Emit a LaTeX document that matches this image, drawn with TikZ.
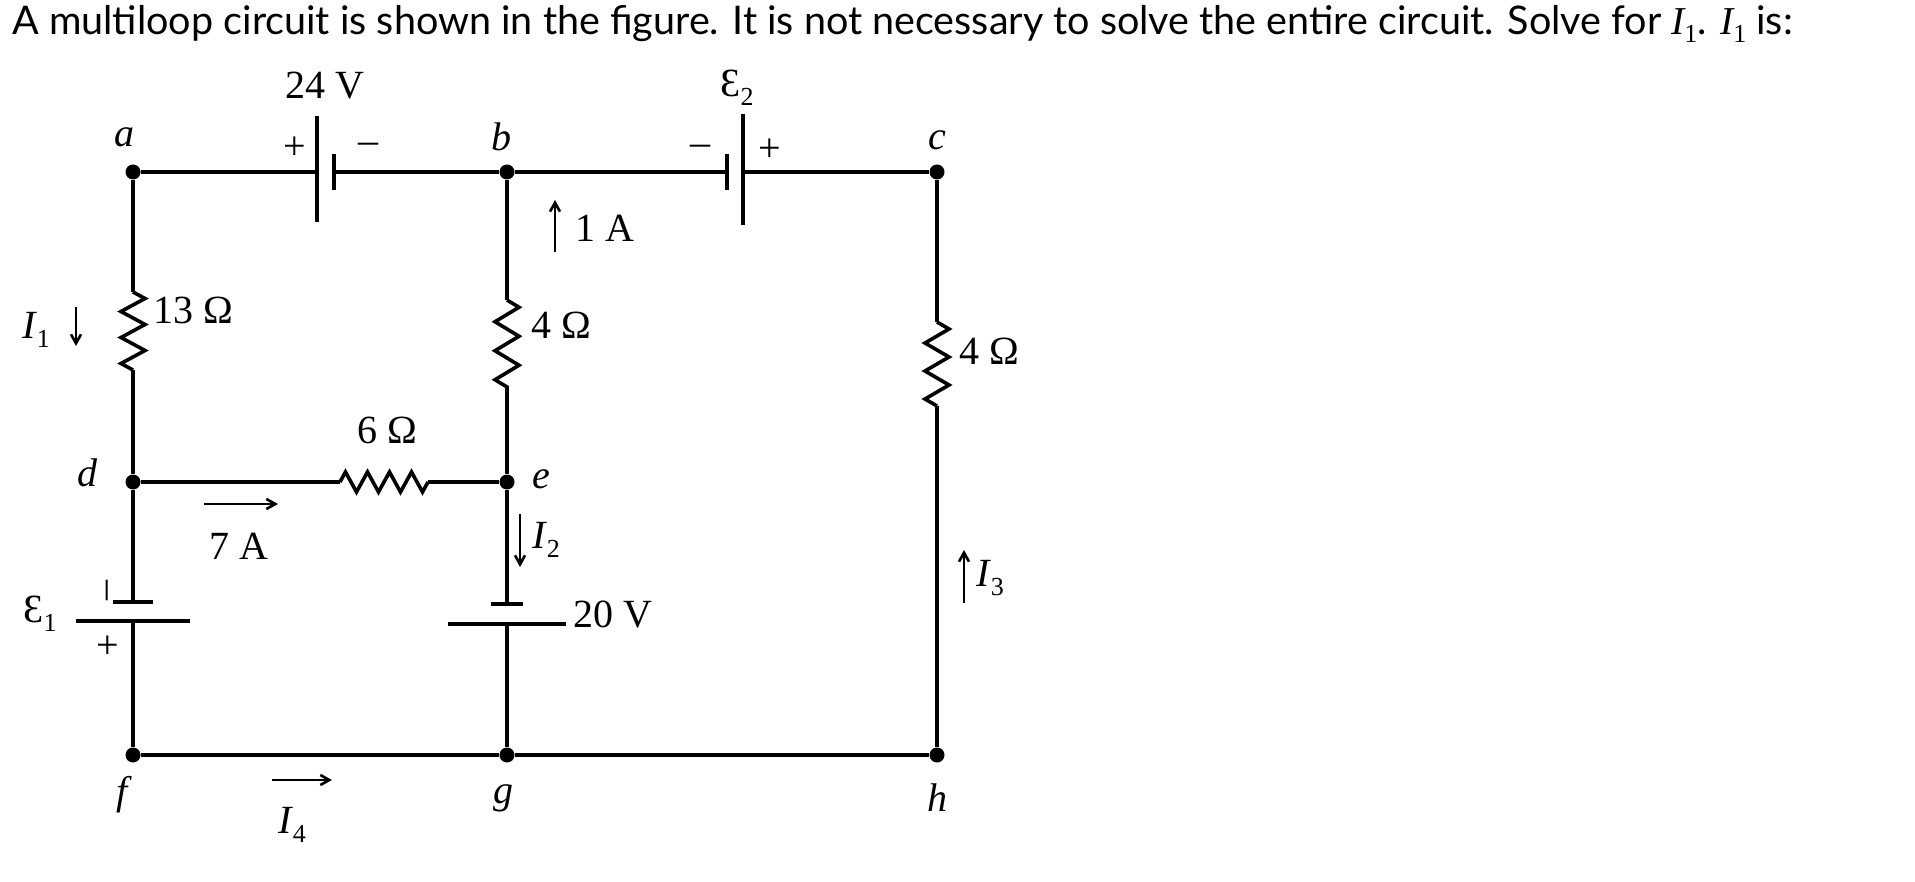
\documentclass[tikz,border=0pt]{standalone}
\usepackage{fontspec}
\setmainfont{Liberation Serif}
\newfontfamily\titlefont{Lato}
\newfontfamily\serifI{Liberation Serif}
\usetikzlibrary{decorations.pathmorphing,arrows.meta}
\newcommand\lsub[1]{\raisebox{-0.22em}{\fontsize{26}{26}\selectfont #1}}
\newcommand\tsub[1]{\raisebox{-0.22em}{\fontsize{26}{26}\selectfont #1}}
\begin{document}
\begin{tikzpicture}[x=1pt,y=-1pt,
  wire/.style={line width=3.6pt},
  plate/.style={line width=3.2pt},
  dot/.style={circle,fill=black,inner sep=0pt,minimum size=15pt},
  lbl/.style={font=\fontsize{40}{40}\selectfont},
  curr/.style={line width=2.6pt,-{Straight Barb[length=9pt,width=10pt]}}]
\useasboundingbox (0,0) rectangle (1915,882);
\node[anchor=west,inner sep=0pt,font=\titlefont\fontsize{39.5}{40}\selectfont] (title) at (12,24) {A multiloop circuit is shown in the figure. It is not necessary to solve the entire circuit. Solve for {\serifI\itshape I}\tsub{\serifI 1}. {\serifI\itshape I}\tsub{\serifI 1} is:};
% junctions
\node[dot] (a) at (133,172) {}; \node[dot] (b) at (507,172) {}; \node[dot] (c) at (937,172) {};
\node[dot] (d) at (133,482) {}; \node[dot] (e) at (507,482) {};
\node[dot] (f) at (133,755) {}; \node[dot] (g) at (507,755) {}; \node[dot] (h) at (937,755) {};
% battery coordinates
\coordinate (b24p) at (317,172); \coordinate (b24n) at (334,172);
\coordinate (e2n) at (727,172); \coordinate (e2p) at (743,172);
\coordinate (e1n) at (133,602); \coordinate (e1p) at (133,621);
\coordinate (b20n) at (507,604); \coordinate (b20p) at (507,624);
% resistor segments
\coordinate (r13a) at (133,292); \coordinate (r13b) at (133,370);
\coordinate (r4a) at (507,300); \coordinate (r4b) at (507,388);
\coordinate (r4ca) at (937,322); \coordinate (r4cb) at (937,406);
\coordinate (r6a) at (340,482); \coordinate (r6b) at (428,482);
% wires
\draw[wire] (a) -- (b24p); \draw[wire] (b24n) -- (b) -- (e2n); \draw[wire] (e2p) -- (c);
\draw[wire] (a) -- (r13a); \draw[wire] (r13b) -- (d) -- (e1n); \draw[wire] (e1p) -- (f) -- (g) -- (h);
\draw[wire] (b) -- (r4a); \draw[wire] (r4b) -- (e) -- (b20n); \draw[wire] (b20p) -- (g);
\draw[wire] (c) -- (r4ca); \draw[wire] (r4cb) -- (h);
\draw[wire] (d) -- (r6a); \draw[wire] (r6b) -- (e);
% resistors
\draw[wire,decorate,decoration={zigzag,segment length=26pt,amplitude=12pt}] (r13a) -- (r13b);
\draw[wire,decorate,decoration={zigzag,segment length=29pt,amplitude=12pt}] (r4a) -- (r4b);
\draw[wire,decorate,decoration={zigzag,segment length=28pt,amplitude=12pt}] (r4ca) -- (r4cb);
\draw[wire,decorate,decoration={zigzag,segment length=22pt,amplitude=10pt}] (r6a) -- (r6b);
% batteries
\draw[plate] ([yshift=-50pt]b24p) -- ([yshift=56pt]b24p);
\draw[plate] ([yshift=-18pt]b24n) -- ([yshift=18pt]b24n);
\draw[plate] ([yshift=-18pt]e2n) -- ([yshift=18pt]e2n);
\draw[plate] ([yshift=-53pt]e2p) -- ([yshift=58pt]e2p);
\draw[plate] ([xshift=-20pt]e1n) -- ([xshift=20pt]e1n);
\draw[plate] ([xshift=-57pt]e1p) -- ([xshift=57pt]e1p);
\draw[plate] ([xshift=-16pt]b20n) -- ([xshift=16pt]b20n);
\draw[plate] ([xshift=-59pt]b20p) -- ([xshift=59pt]b20p);
% labels
\node[lbl] (l24) at (325,86) {24 V};
\node[lbl] (le2) at (737,88) {Ɛ\lsub{2}};
\node[lbl] at (295,148) {+}; \node[lbl] at (368,148) {\textendash};
\node[lbl] at (700,150) {\textendash}; \node[lbl] at (770,150) {+};
\node[lbl] (la) at (124,137) {\textit{a}}; \node[lbl] (lb) at (501,137) {\textit{b}}; \node[lbl] (lc) at (937,140) {\textit{c}};
\node[lbl] (ld) at (88,473) {\textit{d}}; \node[lbl] (le) at (541,479) {\textit{e}};
\node[lbl] (lf) at (124,795) {\textit{f}}; \node[lbl] (lg) at (503,798) {\textit{g}}; \node[lbl] (lh) at (937,798) {\textit{h}};
\node[lbl,anchor=west] at (150,310) {13 Ω};
\node[lbl,anchor=west] at (528,325) {4 Ω};
\node[lbl,anchor=west] at (956,351) {4 Ω};
\node[lbl] at (387,430) {6 Ω};
\node[lbl,anchor=west] at (572,228) {1 A};
\node[lbl] at (239,546) {7 A};
\node[lbl,anchor=west] at (570,614) {20 V};
\node[lbl] at (40,614) {Ɛ\lsub{1}};
\node[lbl] at (108,647) {+}; \node[lbl,rotate=90] at (111,590) {\textendash};
\node[lbl] at (36,330) {\textit{I}\lsub{1}};
\node[lbl] at (546,540) {\textit{I}\lsub{2}};
\node[lbl] at (990,578) {\textit{I}\lsub{3}};
\node[lbl] at (292,825) {\textit{I}\lsub{4}};
% current arrows
\coordinate (i1s) at (76,307); \coordinate (i1e) at (76,346);
\draw[curr] (i1s) -- (i1e);
\coordinate (i1as) at (555,252); \coordinate (i1ae) at (555,200);
\draw[curr] (i1as) -- (i1ae);
\coordinate (i7s) at (204,504); \coordinate (i7e) at (278,504);
\draw[curr] (i7s) -- (i7e);
\coordinate (i2s) at (520,514); \coordinate (i2e) at (520,567);
\draw[curr] (i2s) -- (i2e);
\coordinate (i3s) at (964,603); \coordinate (i3e) at (964,550);
\draw[curr] (i3s) -- (i3e);
\coordinate (i4s) at (272,780); \coordinate (i4e) at (332,780);
\draw[curr] (i4s) -- (i4e);
\end{tikzpicture}
\end{document}
